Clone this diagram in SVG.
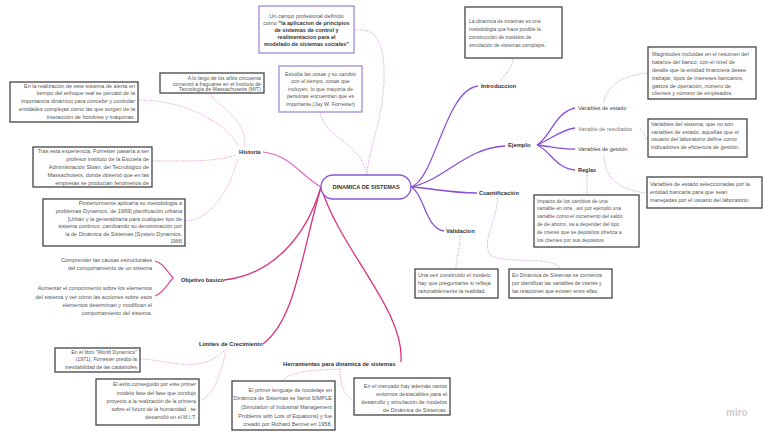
<svg xmlns="http://www.w3.org/2000/svg" width="768" height="435" viewBox="0 0 768 435">
<style>
.bx{fill:#fff;stroke:#444;stroke-width:1.3}
.pb{fill:#fff;stroke:#9b7fd9;stroke-width:1.2}
.t{font-family:"Liberation Sans",Arial,sans-serif;fill:#555;font-size:5.5px}
.r{text-anchor:end}
.c{text-anchor:middle}
.lb{font-family:"Liberation Sans",Arial,sans-serif;fill:#333;font-size:5.8px;font-weight:bold}
.sl{font-family:"Liberation Sans",Arial,sans-serif;fill:#444;font-size:5.5px}
.pu{fill:none;stroke:#8a4fd8;stroke-width:1.3}
.pk{fill:none;stroke:#d9337e;stroke-width:1.3}
.pl{fill:none;stroke:#e06ac6;stroke-width:1.2}
.dl{fill:none;stroke:#e183c6;stroke-width:0.9;stroke-dasharray:1 1.4}
.dr{fill:none;stroke:#c08ad8;stroke-width:0.9;stroke-dasharray:1 1.4}
</style>
<rect width="768" height="435" fill="#fff"/>
<g id="connectors">
<path class="pu" d="M411,187 C435,180 445,90 478,86"/>
<path class="pu" d="M411,187 C445,180 465,148 505,146"/>
<path class="pu" d="M411,187 C430,188 450,193 477,193"/>
<path class="pu" d="M411,187 C425,195 425,228 444,231"/>
<path class="pu" d="M537,145 C550,138 555,112 575,108"/>
<path class="pu" d="M537,145 C550,140 560,130 575,128"/>
<path class="pu" d="M537,145 C550,146 560,150 575,149"/>
<path class="pu" d="M537,145 C550,150 555,168 575,170"/>
<path class="pl" d="M321,187 C300,175 290,155 263,152"/>
<path class="pk" d="M321,187 C305,240 270,275 224,280"/>
<path class="pk" d="M321,187 C300,260 295,320 263,344"/>
<path class="pk" d="M321,187 C340,250 405,310 401,362"/>
<path fill="none" stroke="#d94a9a" stroke-width="1.2" d="M155,261 C163,263 166,270 173,278 C166,286 163,293 155,296"/>
<path class="dr" d="M355,30 C375,28 385,40 384,80 C383,120 368,150 367,175"/>
<path class="dr" d="M320,112 C325,140 360,140 367,175"/>
<path class="dr" d="M513,59 C512,68 505,75 500,81"/>
<path class="dr" d="M647,73 C625,75 605,85 604,103"/>
<path class="dr" d="M647,140 C644,134 642,130 640,129"/>
<path class="dr" d="M647,193 C620,190 605,180 604,155"/>
<path class="dr" d="M587,175 L587,195"/>
<path class="dr" d="M498,198 C495,225 482,240 490,255 C505,265 555,255 560,269"/>
<path class="dr" d="M460,236 C460,250 456,258 456,269"/>
<path class="dl" d="M139,100 C180,100 225,120 238,146"/>
<path class="dl" d="M211,94 C215,106 246,115 245,147"/>
<path class="dl" d="M152,161 C190,161 215,162 236,155"/>
<path class="dl" d="M186,221 C210,220 230,190 238,158"/>
<path class="dl" d="M140,359 C170,360 200,375 225,350"/>
<path class="dl" d="M199,401 C215,395 220,375 226,351"/>
<path class="dl" d="M340,369 C320,370 290,370 283,381"/>
<path class="dl" d="M340,369 C340,385 345,398 354,401"/>
</g>
<g id="center">
<rect x="321" y="175" width="90" height="24" rx="12" fill="#fff" stroke="#8a55d8" stroke-width="1.3"/>
<text class="lb c" x="366" y="189.3" style="font-size:5.6px">DINAMICA DE SISTEMAS</text>
</g>
<g id="introduccion"><text class="lb" x="481" y="88">Introduccion</text></g>
<g id="ejemplo"><text class="lb" x="508" y="147">Ejemplo</text></g>
<g id="cuantificacion"><text class="lb" x="479" y="195">Cuantificación</text></g>
<g id="validacion"><text class="lb" x="446" y="233">Validacion</text></g>
<g id="var-estado"><text class="sl" x="578" y="110">Variables de estado</text></g>
<g id="var-resultados"><text class="sl" x="578" y="131" style="fill:#777">Variable de resultados</text></g>
<g id="var-gestion"><text class="sl" x="578" y="151">Variables de gestión</text></g>
<g id="reglas"><text class="lb" x="578" y="172" style="font-size:5.5px">Reglas</text></g>
<g id="historia"><text class="lb" x="239" y="154">Historia</text></g>
<g id="objetivo"><text class="lb" x="181" y="282">Objetivo basico</text></g>
<g id="limites"><text class="lb" x="199" y="345.5">Limites de Crecimiento</text></g>
<g id="herramientas"><text class="lb" x="283" y="365.5">Herramientas para dinamica de sistemas</text></g>
<g id="box-intro">
<rect class="bx" x="465" y="7" width="97" height="51"/>
<text class="t" x="469" y="22.6" style="font-size:5px">La dinamica de sistemas es una</text>
<text class="t" x="469" y="30.6" style="font-size:5px">metodologia que hace posible la</text>
<text class="t" x="469" y="38.6" style="font-size:5px">construcción de modelos de</text>
<text class="t" x="469" y="46.6" style="font-size:5px">simulación de sistemas complejos.</text>
</g>
<g id="box-magnitudes">
<rect class="bx" x="648" y="47" width="108" height="52"/>
<text class="t" x="652" y="56">Magnitudes incluidas en el resumen del</text>
<text class="t" x="652" y="64">balance del banco, con el nivel de</text>
<text class="t" x="652" y="72">detalle que la entidad financiera desee</text>
<text class="t" x="652" y="79.8">trabajar, tipos de intereses bancarios,</text>
<text class="t" x="652" y="87.6">gastos de operación, número de</text>
<text class="t" x="652" y="95.4">clientes y número de empleados.</text>
</g>
<g id="box-vsistema">
<rect class="bx" x="648" y="119" width="99" height="38"/>
<text class="t" x="651" y="126">Variables del sistema, que no son</text>
<text class="t" x="651" y="133.6">variables de estado, aquellas que el</text>
<text class="t" x="651" y="141.3">usuario del laboratorio define como</text>
<text class="t" x="651" y="149.2">indicadores de eficiencia de gestión.</text>
</g>
<g id="box-vseleccionadas">
<rect class="bx" x="647" y="177" width="115" height="31"/>
<text class="t" x="650" y="186.3">Variables de estado seleccionadas por la</text>
<text class="t" x="650" y="194.2">entidad bancaria para que sean</text>
<text class="t" x="650" y="202.2">manejadas por el usuario del laboratorio.</text>
</g>
<g id="box-impacto">
<rect class="bx" x="534" y="195" width="105" height="52"/>
<text class="t" x="537" y="202.6" style="font-size:5.1px">Impacto de los cambios de una</text>
<text class="t" x="537" y="210.3" style="font-size:5.1px">variable en otra , así por ejemplo una</text>
<text class="t" x="537" y="218.2" style="font-size:5.1px">variable como el incremento del saldo</text>
<text class="t" x="537" y="226.3" style="font-size:5.1px">de de ahorro, va a depender del tipo</text>
<text class="t" x="537" y="234.2" style="font-size:5.1px">de interés que se depósitos ofrezca a</text>
<text class="t" x="537" y="242" style="font-size:5.1px">los clientes por sus depósitos.</text>
</g>
<g id="box-validacion">
<rect class="bx" x="415" y="269" width="83" height="29"/>
<text class="t" x="418" y="277">Una vez construido el modelo</text>
<text class="t" x="418" y="284.8">hay que preguntarse si refleja</text>
<text class="t" x="418" y="292.6">razonablemente la realidad.</text>
</g>
<g id="box-cuantificacion">
<rect class="bx" x="509" y="269" width="103" height="29"/>
<text class="t" x="512" y="277" style="font-size:5.2px">En Dinámica de Sistemas se comienza</text>
<text class="t" x="512" y="284.7" style="font-size:5.2px">por identificar las variables de interés y</text>
<text class="t" x="512" y="292.8" style="font-size:5.2px">las relaciones que existen entre ellas.</text>
</g>
<g id="box-campo">
<rect class="pb" x="259" y="6" width="95" height="47"/>
<text class="t c" x="306.5" y="17.6">Un campo profesional definido</text>
<text class="t c" x="306.5" y="24.8">como <tspan font-weight="bold" fill="#333">"la aplicacion de principios</tspan></text>
<text class="t c" x="306.5" y="32" font-weight="bold" style="fill:#333">de sistemas de control y</text>
<text class="t c" x="306.5" y="39.2" font-weight="bold" style="fill:#333">realimentacion para el</text>
<text class="t c" x="306.5" y="46.4" font-weight="bold" style="fill:#333">modelado de sistemas sociales"</text>
</g>
<g id="box-estudia">
<rect class="pb" x="279" y="66" width="83" height="46"/>
<text class="t c" x="320.5" y="75.5" style="font-size:5.3px">Estudia las cosas y su cambio</text>
<text class="t c" x="320.5" y="83" style="font-size:5.3px">con el tiempo, cosas que</text>
<text class="t c" x="320.5" y="90.6" style="font-size:5.3px">incluyen, lo que mayoría de</text>
<text class="t c" x="320.5" y="98.2" style="font-size:5.3px">personas encuentran que es</text>
<text class="t c" x="320.5" y="105.8" style="font-size:5.3px">importante.(Jay W. Forrester)</text>
</g>
<g id="box-alolargo">
<rect class="bx" x="160" y="73" width="104" height="20"/>
<text class="t r" x="261" y="79.6" style="font-size:5.2px">A lo largo de los años cincuenta</text>
<text class="t r" x="261" y="85.6" style="font-size:5.2px">comenzó a fraguarse en el Instituto de</text>
<text class="t r" x="261" y="91.4" style="font-size:5.2px">Tecnología de Massachusetts (MIT)</text>
</g>
<g id="box-realizacion">
<rect class="bx" x="10" y="82" width="128" height="40"/>
<text class="t r" x="135" y="87.8">En la realización de este sistema de alerta en</text>
<text class="t r" x="135" y="95.4">tiempo del enfoque real se percató de la</text>
<text class="t r" x="135" y="103.1">importancia dinámico para concebir y controlar</text>
<text class="t r" x="135" y="111.2">entidades complejas como las que surgen de la</text>
<text class="t r" x="135" y="119.2">interacción de hombres y máquinas.</text>
</g>
<g id="box-tras">
<rect class="bx" x="33" y="147" width="119" height="40"/>
<text class="t r" x="149" y="153">Tras esta experiencia, Forrester pasaría a ser</text>
<text class="t r" x="149" y="161">profesor instituto de la Escuela de</text>
<text class="t r" x="149" y="169">Administración Sloan, del Tecnológico de</text>
<text class="t r" x="149" y="177">Massachusets, donde observó que en las</text>
<text class="t r" x="149" y="184.7">empresas se producían fenómenos de</text>
</g>
<g id="box-posteriormente">
<rect class="bx" x="43" y="199" width="142" height="47"/>
<text class="t r" x="182" y="205.3">Posteriormente aplicaría su metodología a</text>
<text class="t r" x="182" y="213">problemas Dynamics, de 1969] planificación urbana</text>
<text class="t r" x="182" y="220.6">[Urban y la generalizaría para cualquier tipo de</text>
<text class="t r" x="182" y="228.2">sistema continuo, cambiando su denominación por</text>
<text class="t r" x="182" y="235.8">la de Dinámica de Sistemas [System Dynamics,</text>
<text class="t r" x="182" y="243.2" style="font-size:4.6px">1968]</text>
</g>
<g id="objetivo-textos">
<text class="t r" x="152" y="262">Comprender las causas estructurales</text>
<text class="t r" x="152" y="270.3">del comportamiento de un sistema</text>
<text class="t r" x="152" y="290.3">Aumentar el conocimiento sobre los elementos</text>
<text class="t r" x="152" y="298.6">del sistema y ver cómo las acciones sobre esos</text>
<text class="t r" x="152" y="307">elementos determinan y modifican el</text>
<text class="t r" x="152" y="315.2">comportamiento del sistema.</text>
</g>
<g id="box-libro">
<rect class="bx" x="55" y="348" width="85" height="24"/>
<text class="t r" x="137" y="354.3" style="font-size:5.2px">En el libro "World Dynamics"</text>
<text class="t r" x="137" y="361.4" style="font-size:5.2px">(1971), Forrester predijo la</text>
<text class="t r" x="137" y="368.7" style="font-size:5.2px">inevitabilidad de las catástrofes</text>
</g>
<g id="box-exito">
<rect class="bx" x="96" y="379" width="103" height="46"/>
<text class="t r" x="196" y="386.3" style="font-size:5.3px">El éxito conseguido por este primer</text>
<text class="t r" x="196" y="394.7" style="font-size:5.3px">modelo fase del fase que condujo</text>
<text class="t r" x="196" y="403" style="font-size:5.3px">proyecto a la realización de la primera</text>
<text class="t r" x="196" y="411.3" style="font-size:5.3px">sobre el futuro de la humanidad , se</text>
<text class="t r" x="196" y="419.3" style="font-size:5.3px">desarrolló en el M.I.T.</text>
</g>
<g id="box-primer">
<rect class="bx" x="232" y="381" width="103" height="49"/>
<text class="t r" x="332" y="392">El primer lenguaje de modelaje en</text>
<text class="t r" x="332" y="400.3">Dinámica de Sistemas se llamó SIMPLE</text>
<text class="t r" x="332" y="409.1">(Simulation of Industrial Management</text>
<text class="t r" x="332" y="417.8">Problems with Lots of Equations) y fue</text>
<text class="t r" x="332" y="426.2">creado por Richard Bennet en 1958.</text>
</g>
<g id="box-mercado">
<rect class="bx" x="354" y="378" width="96" height="37"/>
<text class="t r" x="447" y="388">En el mercado hay además varios</text>
<text class="t r" x="447" y="396">entornos destacables para el</text>
<text class="t r" x="447" y="404">desarrollo y simulación de modelos</text>
<text class="t r" x="447" y="411.5">de Dinámica de Sistemas.</text>
</g>
<text x="726" y="416" font-family="'Liberation Sans',Arial,sans-serif" font-size="10" font-weight="bold" fill="#cfcfcf">miro</text>
</svg>
